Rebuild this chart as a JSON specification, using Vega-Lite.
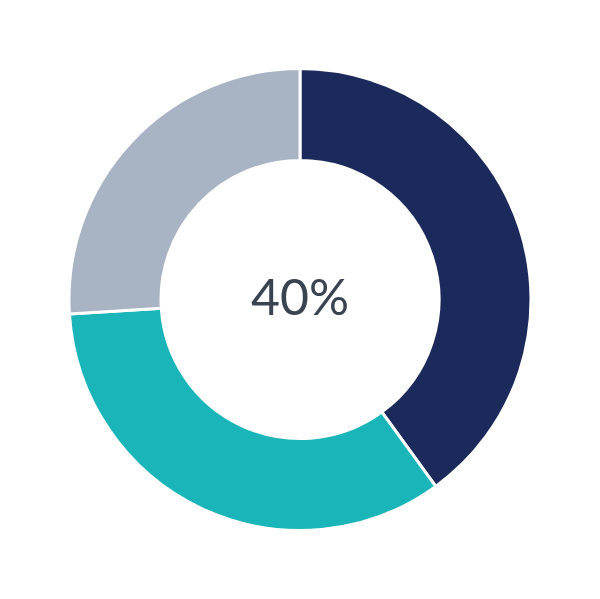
{
  "$schema": "https://vega.github.io/schema/vega-lite/v6.json",
  "width": 600,
  "height": 599,
  "autosize": {"type": "fit", "contains": "padding"},
  "padding": 0,
  "background": "#ffffff",
  "view": {"stroke": null},
  "layer": [
    {
      "data": {
        "values": [
          {"segment": "A", "order": 1, "share": 40},
          {"segment": "B", "order": 2, "share": 34},
          {"segment": "C", "order": 3, "share": 26}
        ]
      },
      "mark": {"type": "arc", "outerRadius": 231, "innerRadius": 139, "stroke": "#ffffff", "strokeWidth": 3},
      "encoding": {
        "theta": {"field": "share", "type": "quantitative", "stack": true},
        "order": {"field": "order", "type": "quantitative"},
        "color": {
          "field": "segment",
          "type": "nominal",
          "legend": null,
          "scale": {"domain": ["A", "B", "C"], "range": ["#1b2a5a", "#1ab5b8", "#a8b3c3"]}
        }
      }
    },
    {
      "data": {"values": [{"label": "40%"}]},
      "mark": {"type": "text", "font": "Lato", "fontSize": 50, "color": "#3a4350", "baseline": "middle", "align": "center"},
      "encoding": {"text": {"field": "label", "type": "nominal"}}
    }
  ]
}
